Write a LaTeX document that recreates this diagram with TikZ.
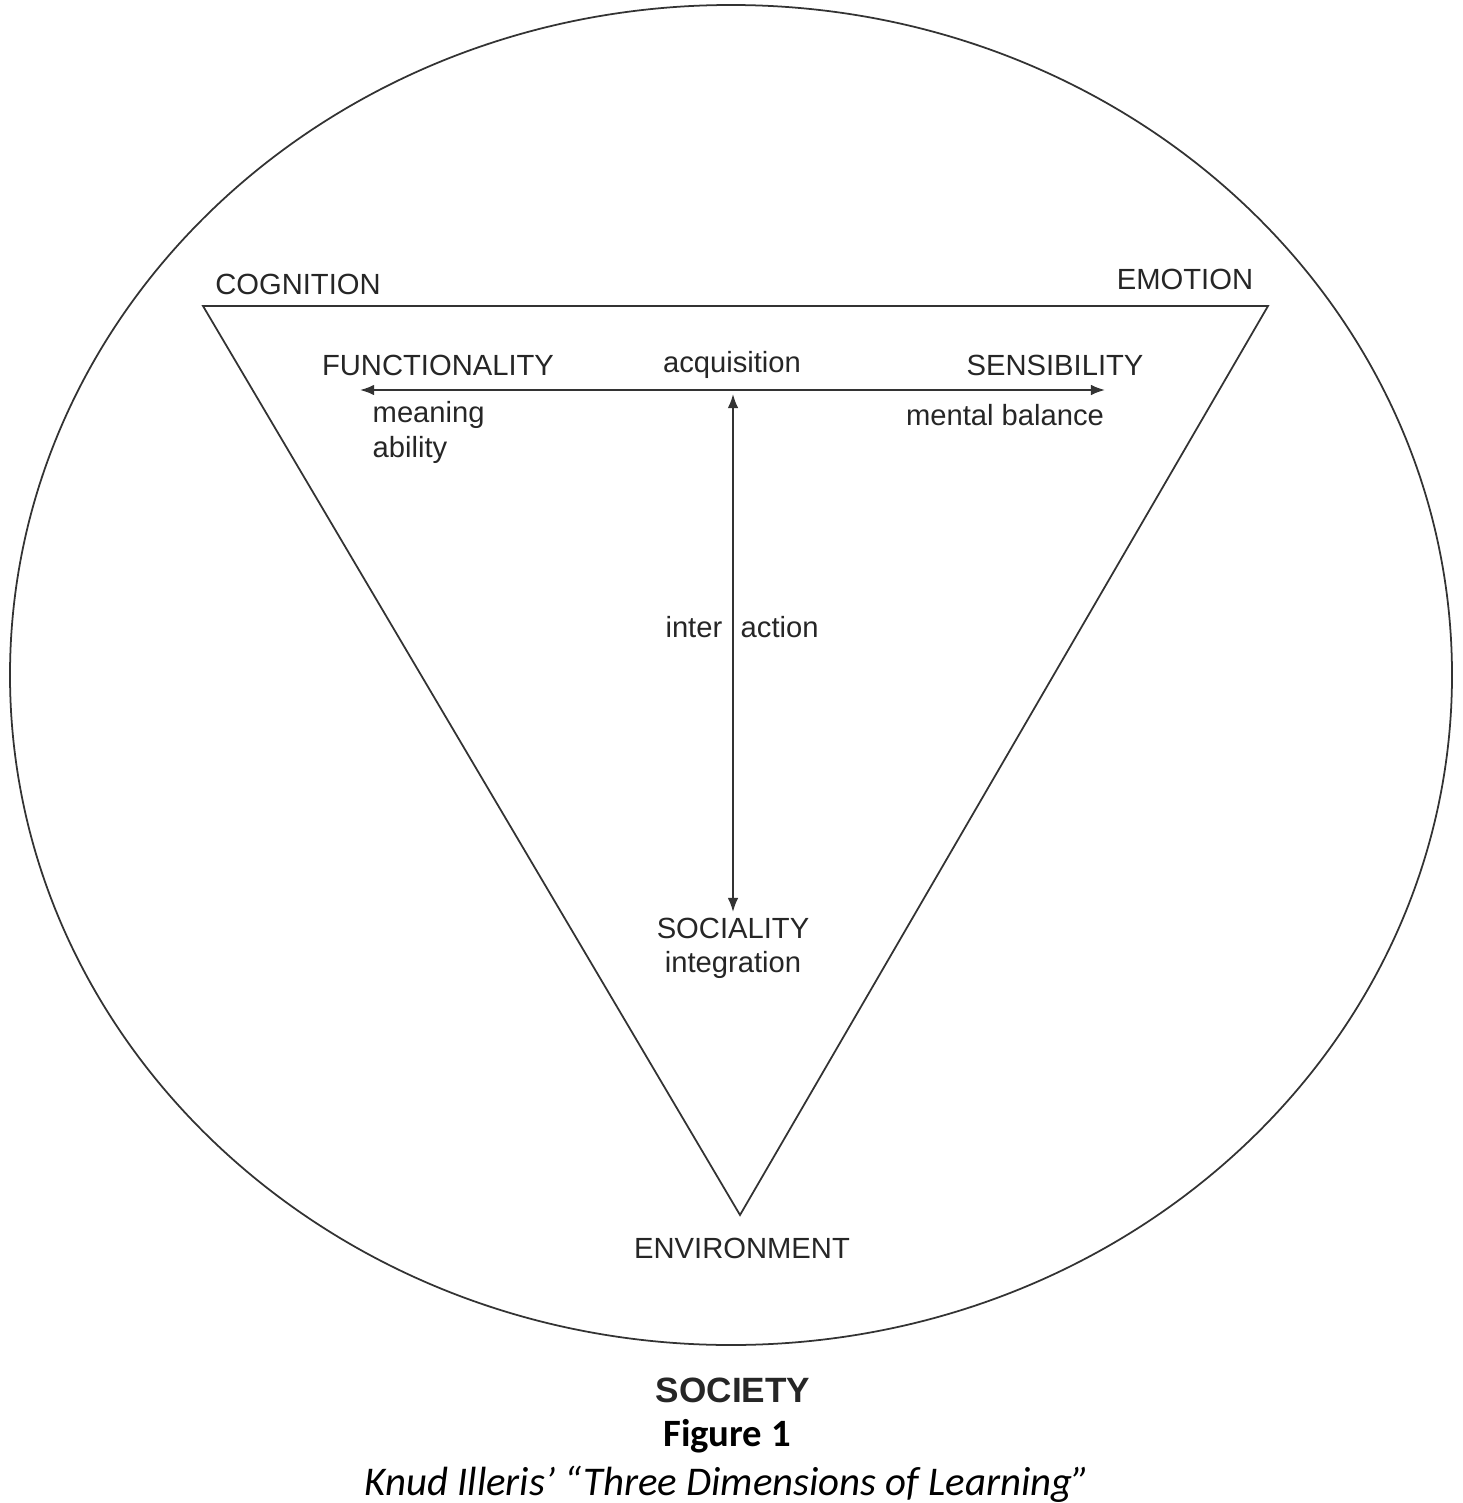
\documentclass[tikz,border=0pt]{standalone}
\usepackage{fontspec}
\setmainfont{Liberation Sans}
\newfontfamily\capfont{Carlito}
\usetikzlibrary{arrows.meta}
\begin{document}
\begin{tikzpicture}[x=0.01cm,y=-0.01cm,
  lab/.style={font=\fontsize{8.3}{10}\selectfont, text=black!85, inner sep=0pt},
  ln/.style={line width=0.5pt, black!80},
  arr/.style={ln, {Latex[length=4pt,width=3pt]}-{Latex[length=4pt,width=3pt]}}]
\useasboundingbox (0,0) rectangle (1462,1503);
\draw[ln] (731,675) ellipse [x radius=721, y radius=670];
\coordinate (tl) at (203,306);
\coordinate (tr) at (1268,306);
\coordinate (bt) at (740,1215);
\draw[ln] (tl) -- (tr) -- (bt) -- cycle;
\coordinate (ha) at (360,390);
\coordinate (hb) at (1105,390);
\coordinate (va) at (733,394);
\coordinate (vb) at (733,912);
\draw[arr] (ha) -- (hb);
\draw[arr] (va) -- (vb);
\node[lab] (cog) at (298,284) {COGNITION};
\node[lab] (emo) at (1185,279) {EMOTION};
\node[lab] (fun) at (438,365) {FUNCTIONALITY};
\node[lab] (acq) at (732,365) {acquisition};
\node[lab] (sen) at (1055,365) {SENSIBILITY};
\node[lab,anchor=west] (mea) at (372,415) {meaning};
\node[lab,anchor=west] (abi) at (372,450) {ability};
\node[lab] (men) at (1005,415) {mental balance};
\node[lab,anchor=east] (int) at (723,627) {inter};
\node[lab,anchor=west] (act) at (740,627) {action};
\node[lab] (soc) at (733,928) {SOCIALITY};
\node[lab] (ing) at (733,965) {integration};
\node[lab] (env) at (742,1248) {ENVIRONMENT};
\node[lab,font=\fontsize{10}{12}\selectfont\bfseries] (soy) at (733,1390) {SOCIETY};
\node[inner sep=0pt,font=\capfont\fontsize{11}{13}\selectfont\bfseries] (fig) at (727,1436) {Figure 1};
\node[inner sep=0pt,font=\capfont\fontsize{11.6}{13}\selectfont\itshape] (cap) at (727,1484) {Knud Illeris’ “Three Dimensions of Learning”};
\end{tikzpicture}
\end{document}
